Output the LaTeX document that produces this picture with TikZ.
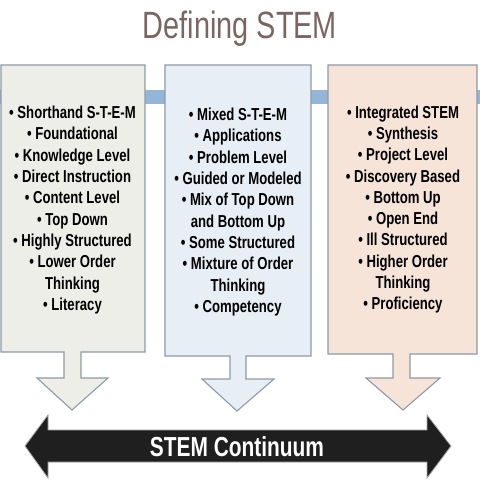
\documentclass[tikz,border=0pt]{standalone}
\usepackage{fontspec}
\setmainfont{Liberation Sans}
\newfontfamily\narrowfont[FakeStretch=0.76]{Liberation Sans}
\newfontfamily\titlefont[FakeStretch=0.76]{Liberation Sans}
\definecolor{titlecol}{HTML}{7B6560}
\definecolor{edgecol}{HTML}{8E9AA6}
\definecolor{fillA}{HTML}{EEEEE8}
\definecolor{fillB}{HTML}{E8EEF6}
\definecolor{fillC}{HTML}{F7E4D9}
\definecolor{barcol}{HTML}{94B6D6}
\begin{document}
\begin{tikzpicture}[x=1pt,y=-1pt,
  panel/.style={draw=edgecol,line width=1.1pt,line join=miter},
  itemtext/.style={align=center,font=\narrowfont\bfseries\fontsize{17.3}{21.3}\selectfont,text=black,inner sep=0pt}]
\useasboundingbox (0,0) rectangle (480,480);
\fill[white] (0,0) rectangle (480,480);
% title
\node[font=\titlefont\fontsize{38}{40}\selectfont,text=titlecol] (title) at (240,29) {Defining STEM};
% connecting bar
\fill[barcol] (0,90) rectangle (480,104);
% left panel
\draw[panel,fill=fillA] (1,65) -- (145,65) -- (145,352) -- (81,352) -- (81,378) -- (108,378) -- (72,410) -- (37,378) -- (64,378) -- (64,352) -- (1,352) -- cycle;
% middle panel
\draw[panel,fill=fillB] (165,65) -- (311,65) -- (311,356) -- (246,356) -- (246,379) -- (274,379) -- (237,411) -- (202,379) -- (230,379) -- (230,356) -- (165,356) -- cycle;
% right panel
\draw[panel,fill=fillC] (328,65) -- (477,65) -- (477,354) -- (410,354) -- (410,378) -- (440,378) -- (403,410) -- (366,378) -- (393,378) -- (393,354) -- (328,354) -- cycle;
% texts
\node[itemtext] (ta) at (72.5,210) {• Shorthand S-T-E-M\\• Foundational\\• Knowledge Level\\• Direct Instruction\\• Content Level\\• Top Down\\• Highly Structured\\• Lower Order\\Thinking\\• Literacy};
\node[itemtext] (tb) at (238,212) {• Mixed S-T-E-M\\• Applications\\• Problem Level\\• Guided or Modeled\\• Mix of Top Down\\and Bottom Up\\• Some Structured\\• Mixture of Order\\Thinking\\• Competency};
\node[itemtext] (tc) at (403,209.5) {• Integrated STEM\\• Synthesis\\• Project Level\\• Discovery Based\\• Bottom Up\\• Open End\\• Ill Structured\\• Higher Order\\Thinking\\• Proficiency};
% continuum arrow
\draw[fill=black!88,draw=gray!70,line width=0.8pt] (25,446) -- (48,415) -- (48,430) -- (427,430) -- (427,415) -- (451,446) -- (427,478) -- (427,462) -- (48,462) -- (48,478) -- cycle;
\node[font=\narrowfont\bfseries\fontsize{27.5}{30}\selectfont,text=white] (cont) at (237,447) {STEM Continuum};
\end{tikzpicture}
\end{document}
